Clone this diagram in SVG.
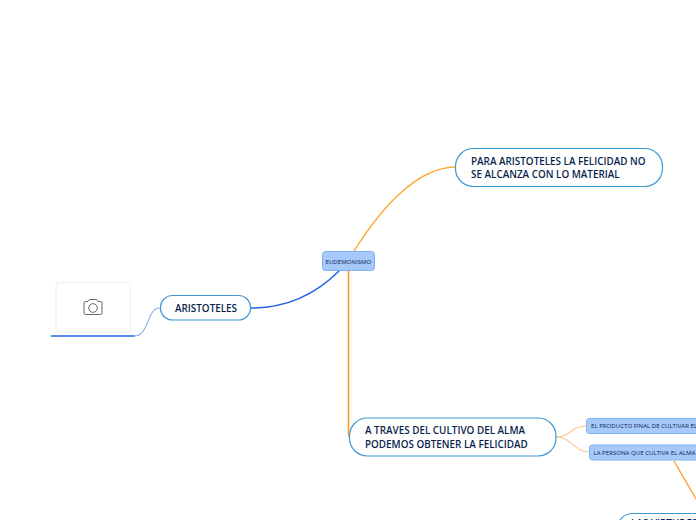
<svg xmlns="http://www.w3.org/2000/svg" width="696" height="520" viewBox="0 0 696 520">
<style>
text{font-family:"Open Sans","Noto Sans","Liberation Sans",sans-serif;fill:#0b1f4d}
.big{font-size:9.9px;font-weight:600}
.small{font-size:6.1px}
.pill{fill:#fff;stroke:#3d97d3;stroke-width:1.2}
.box{fill:#a5c9fb;stroke:#7fb0f0;stroke-width:1}
.c{fill:none;stroke-linecap:round}
</style>
<g id="connectors">
<path class="c" d="M51.500 336H134" stroke="#2463eb" stroke-width="1.6"/>
<path class="c" d="M134 336C150 336 146 308 160 308" stroke="#8fb0f5" stroke-width="1.1"/>
<path class="c" d="M251 308C290 308 318 292 339 271" stroke="#2463eb" stroke-width="1.6"/>
<path class="c" d="M354 251C385 202 420 168 455 167" stroke="#fbab35" stroke-width="1.4"/>
<path class="c" d="M348.500 271V430Q348.500 437 349 437" stroke="#fb9a2e" stroke-width="1.6"/>
<path class="c" d="M556 437C572 437 570 426 586 426" stroke="#fcc88f" stroke-width="1.1"/>
<path class="c" d="M556 437C572 437 574 452 589 452" stroke="#fcc88f" stroke-width="1.1"/>
<path class="c" d="M674 461L696 499" stroke="#fb9a2e" stroke-width="1.3"/>
</g>
<g id="image-node">
<rect x="56" y="282.500" width="74.500" height="49.500" rx="3" fill="#fff" stroke="#eeeeee"/>
<path d="M88 301.500L89.500 299.500H96.500L98 301.500H100.500Q102 301.500 102 303V313Q102 314.500 100.500 314.500H85.500Q84 314.500 84 313V303Q84 301.500 85.500 301.500Z" fill="none" stroke="#666" stroke-width="1"/>
<circle cx="93" cy="308" r="4.300" fill="none" stroke="#666" stroke-width="1"/>
</g>
<g id="aristoteles">
<rect class="pill" x="160.500" y="295.500" width="90" height="24.500" rx="12"/>
<text class="big" x="175" y="312">ARISTOTELES</text>
</g>
<g id="eudemonismo">
<rect class="box" x="322.500" y="251.500" width="52" height="19" rx="3"/>
<text class="small" x="325.500" y="263.500">EUDEMONISMO</text>
</g>
<g id="para-aristoteles">
<rect class="pill" x="455.500" y="148.500" width="207" height="38" rx="18"/>
<text class="big" x="471" y="165">PARA ARISTOTELES LA FELICIDAD NO</text>
<text class="big" x="471" y="178">SE ALCANZA CON LO MATERIAL</text>
</g>
<g id="a-traves">
<rect class="pill" x="349.500" y="418" width="206.500" height="38" rx="18"/>
<text class="big" x="365" y="434">A TRAVES DEL CULTIVO DEL ALMA</text>
<text class="big" x="365" y="448">PODEMOS OBTENER LA FELICIDAD</text>
</g>
<g id="producto-final">
<rect class="box" x="586.500" y="418.500" width="120" height="15" rx="3"/>
<text class="small" x="591" y="428">EL PRODUCTO FINAL DE CULTIVAR EL</text>
</g>
<g id="persona">
<rect class="box" x="589.500" y="445" width="120" height="15" rx="3"/>
<text class="small" x="593.500" y="455">LA PERSONA QUE CULTIVA EL ALMA</text>
</g>
<g id="virtudes">
<rect class="pill" x="617.500" y="513.500" width="120" height="30" rx="15"/>
<text class="big" x="631" y="526.500">LAS VIRTUDES</text>
</g>
</svg>
